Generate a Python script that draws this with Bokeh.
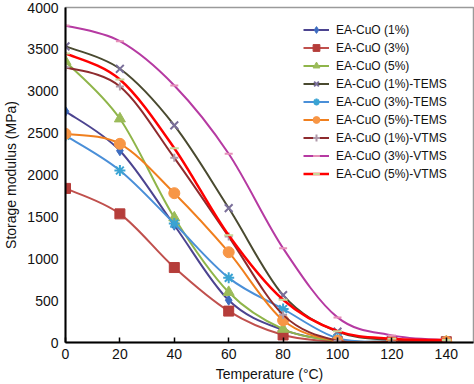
from bokeh.plotting import figure
from bokeh.models import Range1d, Legend, LegendItem, ColumnDataSource, FixedTicker
from bokeh.embed import file_html
from bokeh.resources import INLINE

temps = [0, 20, 40, 60, 80, 100, 120, 140]
labels = ["EA-CuO (1%)", "EA-CuO (3%)", "EA-CuO (5%)",
          "EA-CuO (1%)-TEMS", "EA-CuO (3%)-TEMS", "EA-CuO (5%)-TEMS",
          "EA-CuO (1%)-VTMS", "EA-CuO (3%)-VTMS", "EA-CuO (5%)-VTMS"]
cuo_1 = [2760, 2290, 1400, 505, 150, 20, 10, 10]
cuo_3 = [1840, 1536, 895, 375, 90, 10, 10, 10]
cuo_5 = [3355, 2672, 1490, 600, 160, 20, 10, 10]
cuo_1_tems = [3535, 3268, 2592, 1605, 565, 130, 30, 20]
cuo_3_tems = [2470, 2054, 1420, 772, 400, 50, 10, 10]
cuo_5_tems = [2492, 2372, 1783, 1078, 265, 20, 10, 10]
cuo_1_vtms = [3287, 3057, 2205, 1265, 330, 20, 10, 10]
cuo_3_vtms = [3785, 3598, 3069, 2253, 1125, 300, 85, 30]
cuo_5_vtms = [3452, 3140, 2320, 1280, 510, 135, 45, 30]
series = [cuo_1, cuo_3, cuo_5, cuo_1_tems, cuo_3_tems, cuo_5_tems,
          cuo_1_vtms, cuo_3_vtms, cuo_5_vtms]

line_colors = ["#4c4490", "#c0504d", "#8fb54a", "#4a4a30", "#4a8fd8",
               "#f07f1e", "#8e2b2e", "#b63aa2", "#ff0000"]
marker_colors = ["#3d6cc0", "#b53d3a", "#9bbb59", "#7a6f9a", "#3aa3d3",
                 "#f79646", "#b09aaa", "#e690b8", "#c8d89a"]
markers = ["diamond", "square", "triangle", "x", "asterisk", "circle",
           "cross", "dash", "dash"]
marker_sizes = [10, 10, 11, 11, 11, 11, 8, 8, 9]
line_widths = [2, 2, 2, 2, 2, 2, 2, 2, 2.5]

FONT = "Liberation Sans"

p = figure(width=474, height=384, output_backend="svg", toolbar_location=None,
           x_range=Range1d(0, 150), y_range=Range1d(0, 4000),
           min_border_left=64, min_border_right=1, min_border_top=7,
           min_border_bottom=42)
p.background_fill_color = "white"
p.border_fill_color = "white"
p.outline_line_color = "#9a9a9a"
p.outline_line_width = 1.5
p.xgrid.visible = False
p.ygrid.visible = False

p.xaxis.ticker = FixedTicker(ticks=temps)
p.yaxis.ticker = FixedTicker(ticks=[0, 500, 1000, 1500, 2000, 2500, 3000, 3500, 4000])
for ax in (p.xaxis[0], p.yaxis[0]):
    ax.axis_line_color = "black"
    ax.axis_line_width = 2
    ax.major_label_text_font = FONT
    ax.major_label_text_font_size = "14px"
    ax.major_label_text_color = "#111111"
    ax.axis_label_text_font = FONT
    ax.axis_label_text_font_size = "14px"
    ax.axis_label_text_font_style = "normal"
    ax.axis_label_text_color = "#111111"
    ax.minor_tick_line_color = None
p.xaxis.major_tick_in = 5
p.xaxis.major_tick_out = 0
p.xaxis.major_tick_line_color = "black"
p.xaxis.major_tick_line_width = 1.5
p.yaxis.major_tick_line_color = None
p.yaxis.major_tick_in = 0
p.yaxis.major_tick_out = 0
p.xaxis.major_label_standoff = 6
p.yaxis.major_label_standoff = 7
p.xaxis.axis_label = "Temperature (°C)"
p.yaxis.axis_label = "Storage modulus (MPa)"
p.xaxis.axis_label_standoff = 4
p.yaxis.axis_label_standoff = 5


def smooth_segments(xs, ys):
    n = len(xs)
    d = dict(x0=[], y0=[], x1=[], y1=[], cx0=[], cy0=[], cx1=[], cy1=[])
    for i in range(n - 1):
        im = max(i - 1, 0)
        ip2 = min(i + 2, n - 1)
        d["x0"].append(xs[i]); d["y0"].append(ys[i])
        d["x1"].append(xs[i + 1]); d["y1"].append(ys[i + 1])
        d["cx0"].append(xs[i] + (xs[i + 1] - xs[im]) / 6)
        d["cy0"].append(ys[i] + (ys[i + 1] - ys[im]) / 6)
        d["cx1"].append(xs[i + 1] - (xs[ip2] - xs[i]) / 6)
        d["cy1"].append(ys[i + 1] - (ys[ip2] - ys[i]) / 6)
    return d


items = []
for k, ys in enumerate(series):
    src = ColumnDataSource(smooth_segments(temps, ys))
    lr = p.bezier(x0="x0", y0="y0", x1="x1", y1="y1", cx0="cx0", cy0="cy0",
                  cx1="cx1", cy1="cy1", source=src,
                  line_color=line_colors[k], line_width=line_widths[k])
    mk = markers[k]
    if mk in ("x", "asterisk", "cross", "dash"):
        sr = p.scatter(temps, ys, marker=mk, size=marker_sizes[k],
                       line_color=marker_colors[k], line_width=2,
                       fill_color=marker_colors[k])
    else:
        sr = p.scatter(temps, ys, marker=mk, size=marker_sizes[k],
                       line_color=marker_colors[k], fill_color=marker_colors[k])
    items.append(LegendItem(label=labels[k], renderers=[lr, sr]))

legend = Legend(items=items, location=(238, 160))
legend.border_line_color = None
legend.background_fill_alpha = 0
legend.label_text_font = FONT
legend.label_text_font_size = "12px"
legend.label_text_color = "#111111"
legend.glyph_width = 26
legend.glyph_height = 17
legend.label_height = 17
legend.spacing = 1
legend.padding = 5
legend.label_standoff = 7
legend.margin = 0
p.add_layout(legend)

open("out.html", "w").write(file_html(p, INLINE))
